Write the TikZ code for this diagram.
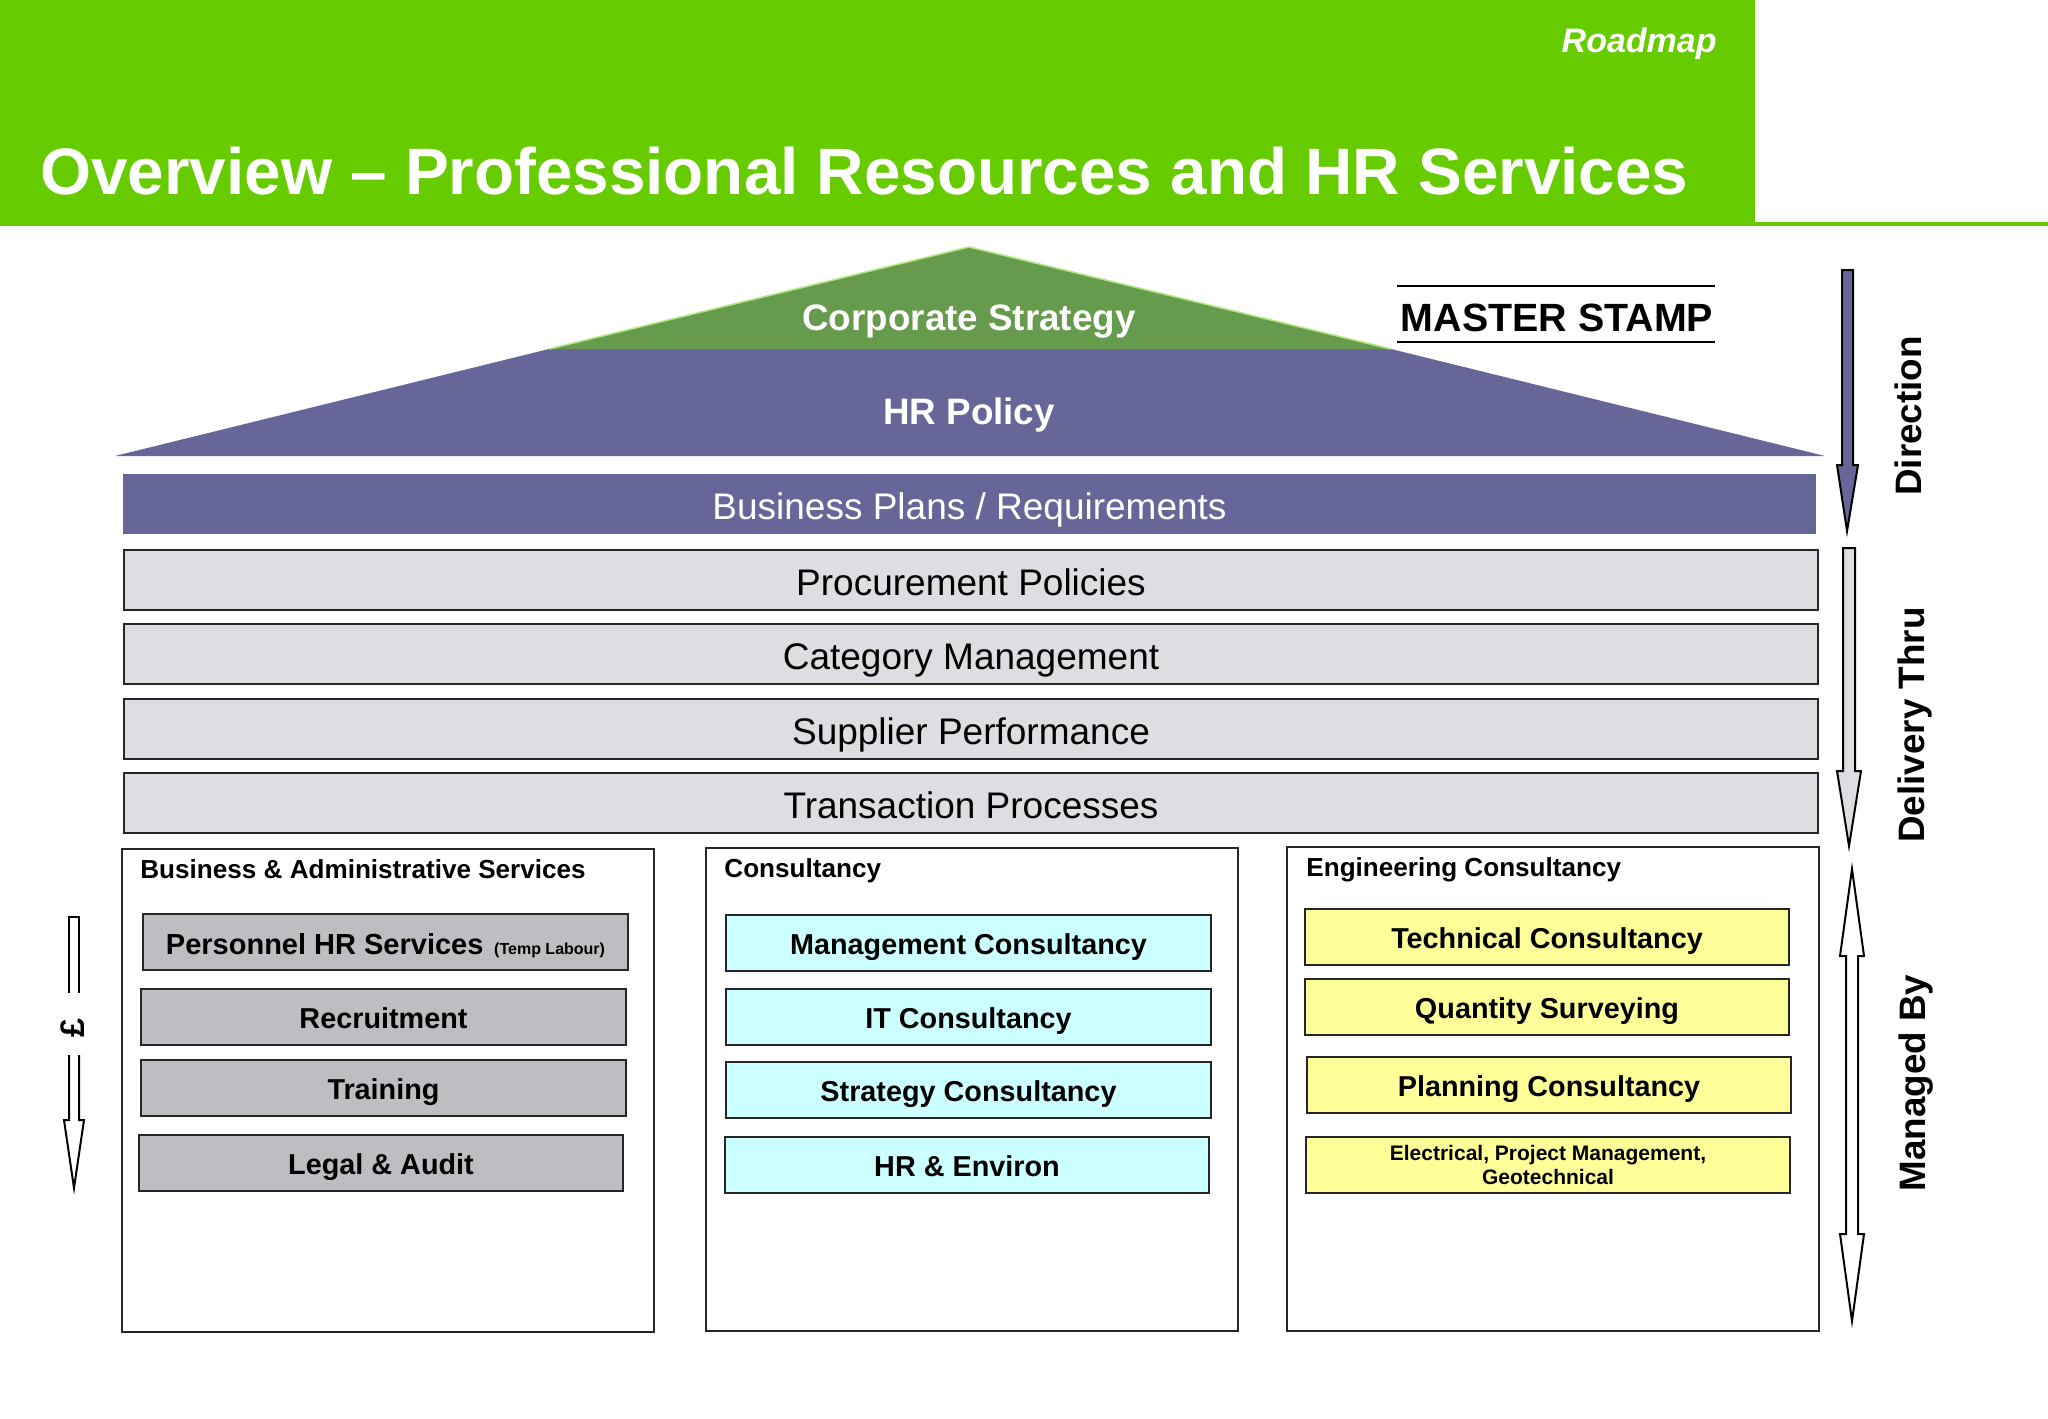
\documentclass[tikz,border=0pt]{standalone}
\usepackage{fontspec}
\setmainfont{Liberation Sans}
\definecolor{hdr}{HTML}{66CC00}
\definecolor{purp}{HTML}{666699}
\definecolor{dgreen}{HTML}{669A4D}
\definecolor{lgrey}{HTML}{DFDDE1}
\definecolor{mgrey}{HTML}{BFBDC1}
\definecolor{cyanb}{HTML}{CCFFFF}
\definecolor{yellb}{HTML}{FFFF99}
\newcommand{\fs}[1]{\fontsize{#1}{#1}\selectfont}
\tikzset{
  x=0.5pt,y=-0.5pt,
  outl/.style={draw=black!85,line width=1.2pt},
  rowbox/.style={outl,fill=lgrey},
  rowtxt/.style={text=black,font=\fs{18.5},text height=13.2pt,text depth=0pt,inner ysep=0pt,yshift=-0.9pt},
  panel/.style={outl,fill=white},
  paneltxt/.style={anchor=west,font=\fs{13.05}\bfseries,inner sep=0pt,text height=9.4pt,text depth=0pt},
  greybox/.style={outl,fill=mgrey},
  cyanbox/.style={outl,fill=cyanb},
  yellbox/.style={outl,fill=yellb},
  boxtxt/.style={font=\fs{14.4}\bfseries,inner sep=0pt,align=center,text height=10.3pt,text depth=0pt,yshift=-0.5pt},
  smalltxt/.style={font=\fs{10.5}\bfseries,inner sep=0pt,align=center},
  roofttxt/.style={text=white,font=\fs{18.4}\bfseries,inner sep=0pt,text height=13.2pt,text depth=0pt},
  vlabel/.style={rotate=90,font=\fs{18.4}\bfseries,inner sep=0pt,text height=13.2pt,text depth=0pt},
  arrowshape/.style={draw=black,line width=1pt,line join=miter}
}
\begin{document}
\begin{tikzpicture}
\useasboundingbox (0,0) rectangle (2048,1418);
\fill[white] (0,0) rectangle (2048,1418);
% header
\fill[hdr] (0,0) rectangle (1755,226);
\fill[hdr] (1755,222) rectangle (2048,226);
\node[text=white,font=\fs{17}\bfseries\itshape,anchor=base east,inner sep=0pt] (road) at (1717,53) {Roadmap};
\node[text=white,font=\fs{32.8}\bfseries,anchor=base west,inner sep=0pt] (title) at (40,194) {Overview – Professional Resources and HR Services};
% roof
\fill[purp] (115,456) -- (549,349) -- (1391,349) -- (1825,456) -- cycle;
\fill[dgreen] (549,349) -- (969,247) -- (1391,349) -- cycle;
\draw[color=hdr!50!white,line width=0.8pt] (549,349) -- (969,247) -- (1391,349);
\node[roofttxt] (corp) at (969,317) {Corporate Strategy};
\node[roofttxt] (hrpol) at (969,411) {HR Policy};
% master stamp
\node[font=\fs{19.7}\bfseries,inner sep=0pt,text height=14.1pt,text depth=0pt] (stamp) at (1557,317) {MASTER STAMP};
\draw[line width=0.9pt] (1397,286) -- (1715,286);
\draw[line width=0.9pt] (1397,342) -- (1715,342);
% rows
\fill[purp] (123,474) rectangle (1816,534) node[pos=.5,text=white,font=\fs{18.5},text height=13.2pt,text depth=0pt,inner ysep=0pt,yshift=-0.9pt] (plans) {Business Plans / Requirements};
\draw[rowbox] (124,550) rectangle (1818,610) node[pos=.5,rowtxt] (proc) {Procurement Policies};
\draw[rowbox] (124,624) rectangle (1818,684) node[pos=.5,rowtxt] (cat) {Category Management};
\draw[rowbox] (124,699) rectangle (1818,759) node[pos=.5,rowtxt] (supp) {Supplier Performance};
\draw[rowbox] (124,773) rectangle (1818,833) node[pos=.5,rowtxt] (trans) {Transaction Processes};
% panels
\draw[panel] (122,849) rectangle (654,1332);
\node[paneltxt] (p1) at (140,869) {Business \& Administrative Services};
\draw[panel] (706,848) rectangle (1238,1331);
\node[paneltxt] (p2) at (724,868) {Consultancy};
\draw[panel] (1287,847) rectangle (1819,1331);
\node[paneltxt] (p3) at (1306,867) {Engineering Consultancy};
% column 1
\draw[greybox] (143,914) rectangle (628,970) node[pos=.5,boxtxt,yshift=-0.5pt] (b1) {\fs{14.5}Personnel HR Services {\fs{8}\,(Temp Labour)}};
\draw[greybox] (141,989) rectangle (626,1045) node[pos=.5,boxtxt] (b2) {Recruitment};
\draw[greybox] (141,1060) rectangle (626,1116) node[pos=.5,boxtxt] (b3) {Training};
\draw[greybox] (139,1135) rectangle (623,1191) node[pos=.5,boxtxt] (b4) {Legal \& Audit};
% column 2
\draw[cyanbox] (726,915) rectangle (1211,971) node[pos=.5,boxtxt] (c1) {Management Consultancy};
\draw[cyanbox] (726,989) rectangle (1211,1045) node[pos=.5,boxtxt] (c2) {IT Consultancy};
\draw[cyanbox] (726,1062) rectangle (1211,1118) node[pos=.5,boxtxt] (c3) {Strategy Consultancy};
\draw[cyanbox] (725,1137) rectangle (1209,1193) node[pos=.5,boxtxt] (c4) {HR \& Environ};
% column 3
\draw[yellbox] (1305,909) rectangle (1789,965) node[pos=.5,boxtxt] (d1) {Technical Consultancy};
\draw[yellbox] (1305,979) rectangle (1789,1035) node[pos=.5,boxtxt] (d2) {Quantity Surveying};
\draw[yellbox] (1307,1057) rectangle (1791,1113) node[pos=.5,boxtxt] (d3) {Planning Consultancy};
\draw[yellbox] (1306,1137) rectangle (1790,1193) node[pos=.5,smalltxt] (d4) {Electrical, Project Management,\hspace{3pt}\\[1.6pt]Geotechnical};
% side arrows
\draw[arrowshape,fill=purp] (1842,270) -- (1853,270) -- (1853,465) -- (1858,465) -- (1847,531) -- (1837,465) -- (1842,465) -- cycle;
\draw[arrowshape,fill=lgrey] (1843,548) -- (1855,548) -- (1855,771) -- (1861,771) -- (1849,846) -- (1837,771) -- (1843,771) -- cycle;
\draw[arrowshape,fill=white] (1852,869) -- (1864,956) -- (1858,956) -- (1858,1234) -- (1864,1234) -- (1852,1321) -- (1840,1234) -- (1846,1234) -- (1846,956) -- (1840,956) -- cycle;
% pound arrow
\draw[arrowshape,fill=white] (69,993) -- (69,917) -- (79,917) -- (79,993);
\draw[arrowshape,fill=white] (69,1055) -- (69,1120) -- (64,1120) -- (74,1188) -- (84,1120) -- (79,1120) -- (79,1055);
\node[rotate=90,font=\fs{17}\bfseries,inner sep=0pt] (pound) at (73,1028) {£};
% side labels
\node[vlabel] (dir) at (1908,416) {Direction};
\node[vlabel] (del) at (1911,725) {Delivery Thru};
\node[vlabel] (man) at (1912,1083) {Managed By};
\end{tikzpicture}
\end{document}
